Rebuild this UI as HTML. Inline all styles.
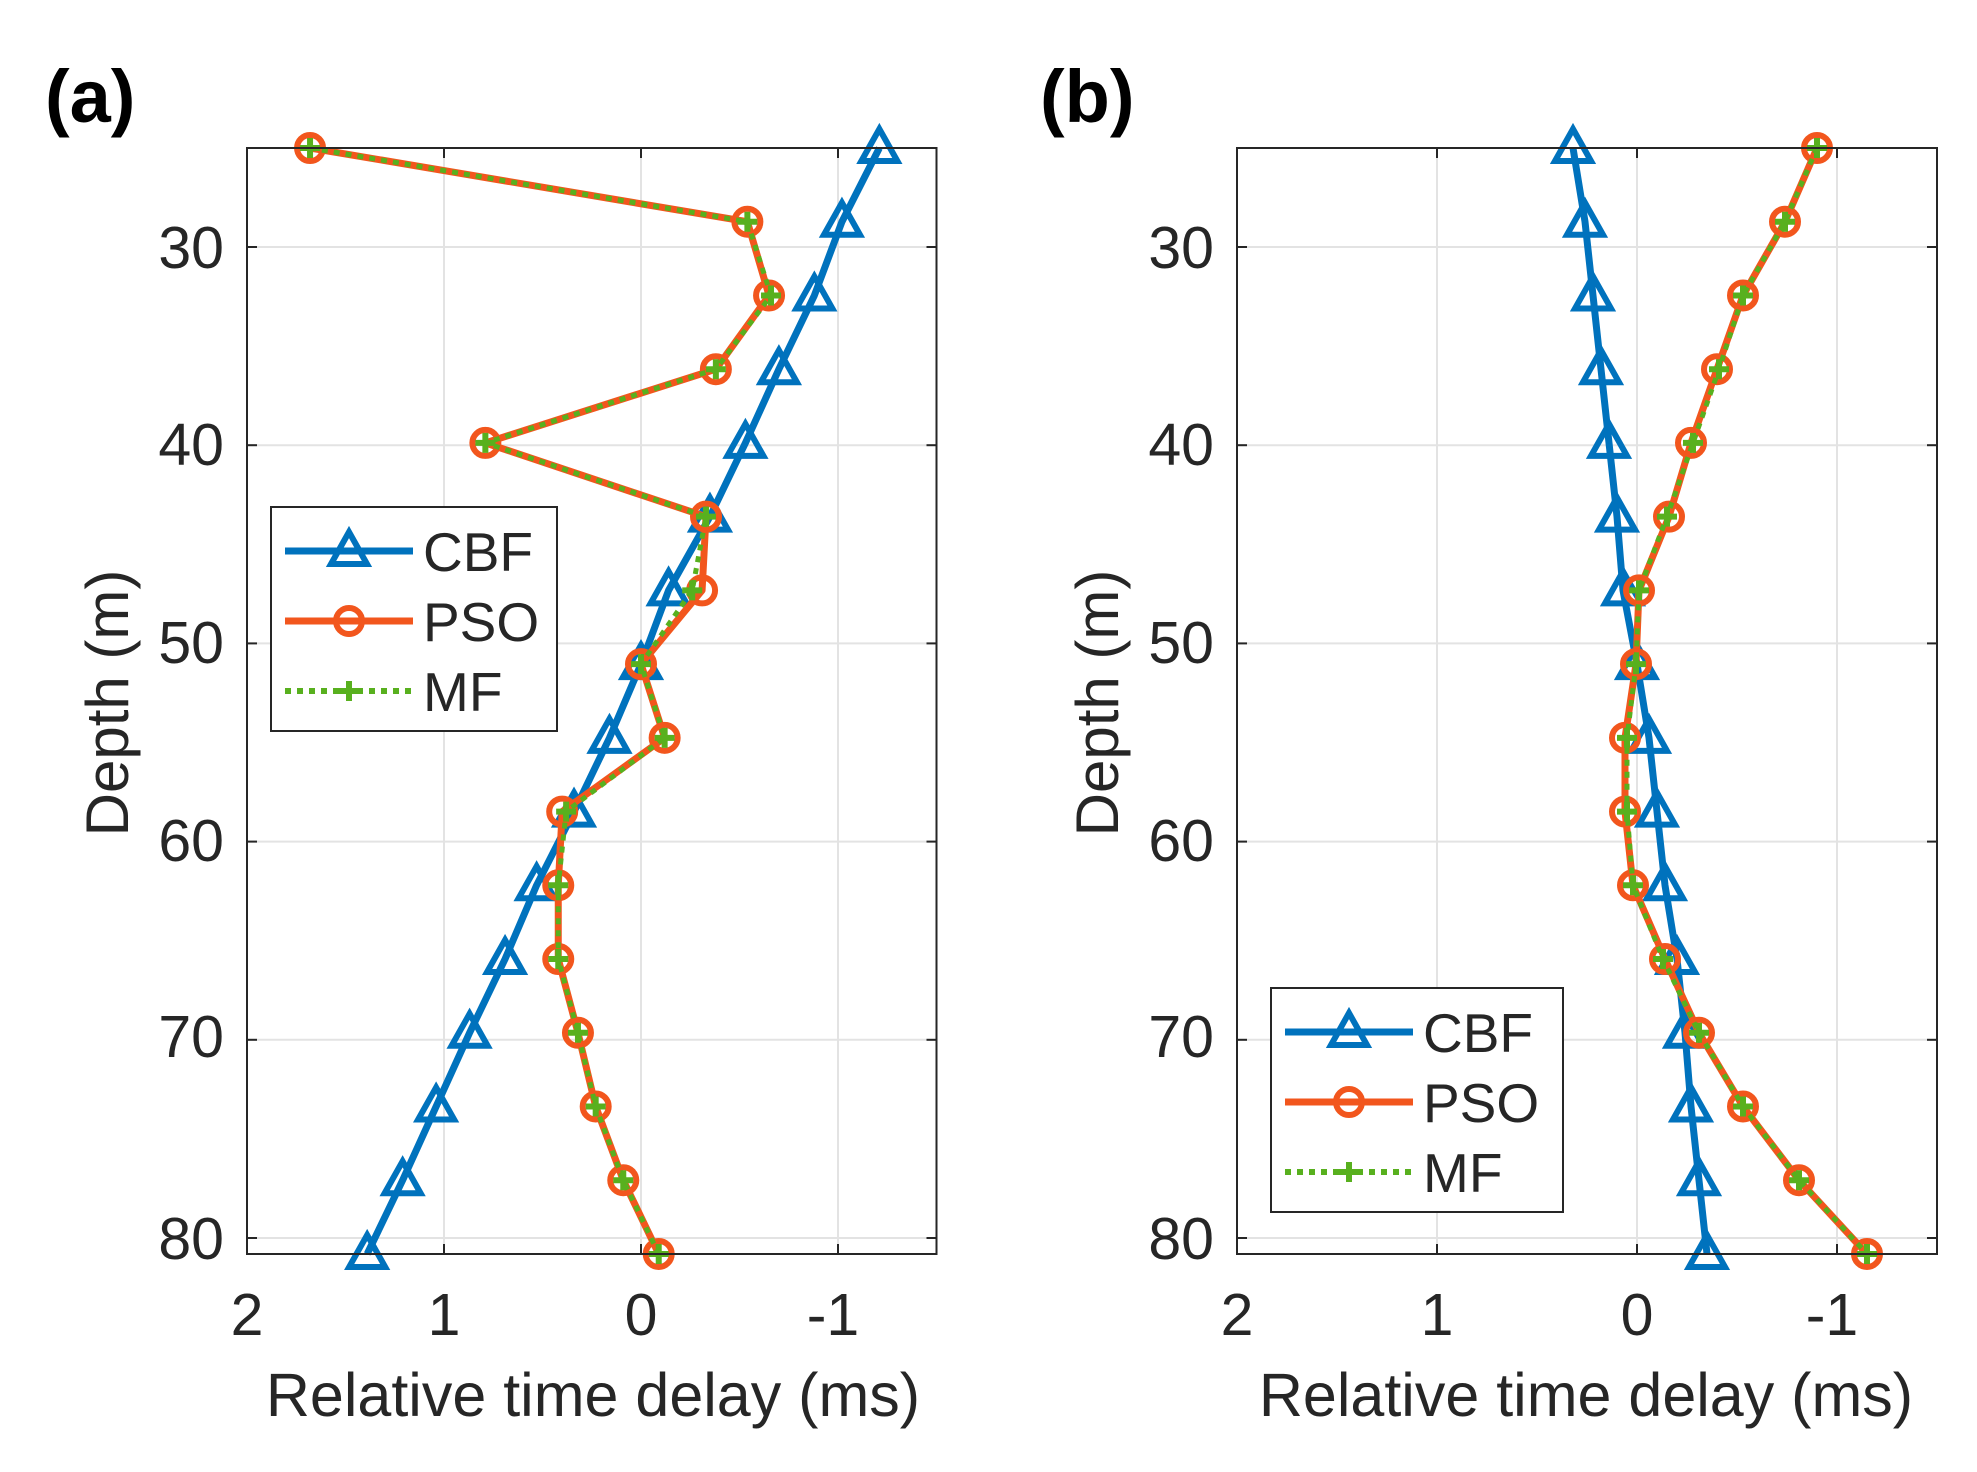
<!DOCTYPE html>
<html><head><meta charset="utf-8"><style>
html,body{margin:0;padding:0;background:#fff}
svg{display:block}
text{font-family:"Liberation Sans",sans-serif;fill:#262626}
</style></head><body>
<svg id="s" width="1977" height="1472" viewBox="0 0 1977 1472" xmlns="http://www.w3.org/2000/svg">
<rect width="1977" height="1472" fill="#fff"/>
<g id="grid"></g>
<g id="data"></g>
<g id="frames"></g>
<text x="45" y="122" font-size="74" font-weight="bold" style="fill:#000">(a)</text>
<text x="1040" y="122" font-size="74" font-weight="bold" style="fill:#000">(b)</text>
<g font-size="59" text-anchor="end">
<text x="224" y="268">30</text><text x="224" y="465">40</text><text x="224" y="663">50</text>
<text x="224" y="861">60</text><text x="224" y="1057">70</text><text x="224" y="1259">80</text>
<text x="1214" y="268">30</text><text x="1214" y="465">40</text><text x="1214" y="663">50</text>
<text x="1214" y="861">60</text><text x="1214" y="1057">70</text><text x="1214" y="1259">80</text>
</g>
<g font-size="59" text-anchor="middle">
<text x="247" y="1335">2</text><text x="444" y="1335">1</text><text x="641" y="1335">0</text><text x="833" y="1335">-1</text>
<text x="1237" y="1335">2</text><text x="1437" y="1335">1</text><text x="1637" y="1335">0</text><text x="1832" y="1335">-1</text>
</g>
<text x="593" y="1416" font-size="61" text-anchor="middle">Relative time delay (ms)</text>
<text x="1586" y="1416" font-size="61" text-anchor="middle">Relative time delay (ms)</text>
<text transform="translate(128,703) rotate(-90)" font-size="60" text-anchor="middle">Depth (m)</text>
<text transform="translate(1118,703) rotate(-90)" font-size="60" text-anchor="middle">Depth (m)</text>
<g id="legends"></g>
</svg>
<script>
const NS="http://www.w3.org/2000/svg";
function el(p,t,a){const e=document.createElementNS(NS,t);for(const k in a)e.setAttribute(k,a[k]);p.appendChild(e);return e;}
const grid=document.getElementById('grid'),data=document.getElementById('data'),fr=document.getElementById('frames'),lg=document.getElementById('legends');
const B='#0072BD',O='#F2561D',G='#58B01E';
const yD=d=>247+(d-30)*19.82;
const yi=i=>148+73.73*i;
const panels=[
 {L:247,W:197,
  cbf:[-1.21,-1.02,-0.88,-0.70,-0.53,-0.35,-0.14,0,0.16,0.34,0.53,0.69,0.87,1.04,1.21,1.39],
  pso:[1.68,-0.54,-0.65,-0.38,0.79,-0.33,-0.31,0,-0.12,0.40,0.42,0.42,0.32,0.23,0.09,-0.09],
  mf:[1.68,-0.54,-0.66,-0.38,0.79,-0.33,-0.26,0,-0.12,0.38,0.42,0.42,0.32,0.23,0.09,-0.09],
  leg:[271,507,286,224]},
 {L:1237,W:200,
  cbf:[0.32,0.26,0.22,0.18,0.14,0.10,0.07,0,-0.06,-0.10,-0.14,-0.20,-0.24,-0.27,-0.31,-0.35],
  pso:[-0.90,-0.74,-0.53,-0.40,-0.27,-0.16,-0.01,0.005,0.06,0.06,0.02,-0.14,-0.31,-0.53,-0.81,-1.15],
  mf:[-0.90,-0.74,-0.53,-0.41,-0.28,-0.15,-0.01,0.005,0.05,0.05,0.02,-0.13,-0.31,-0.53,-0.81,-1.15],
  leg:[1271,988,292,224]}
];
const T=148,Bt=1254;
function tri(g,x,y,c){el(g,'polygon',{points:`${x},${y-19} ${x-18},${y+13} ${x+18},${y+13}`,fill:'none',stroke:c,'stroke-width':6});}
function circ(g,x,y,c){el(g,'circle',{cx:x,cy:y,r:13,fill:'none',stroke:c,'stroke-width':6});}
function plus(g,x,y,c){el(g,'path',{d:`M${x-10} ${y}H${x+10}M${x} ${y-10}V${y+10}`,stroke:c,'stroke-width':6});}
panels.forEach(p=>{
 const X=v=>p.L+(2-v)*p.W, R=p.L+3.5*p.W;
 [1,0,-1].forEach(v=>el(grid,'line',{x1:X(v),x2:X(v),y1:T,y2:Bt,stroke:'#e3e3e3','stroke-width':2}));
 [30,40,50,60,70,80].forEach(d=>el(grid,'line',{x1:p.L,x2:R,y1:yD(d),y2:yD(d),stroke:'#e3e3e3','stroke-width':2}));
 el(fr,'rect',{x:p.L,y:T,width:R-p.L,height:Bt-T,fill:'none',stroke:'#262626','stroke-width':2});
 [2,1,0,-1].forEach(v=>{el(fr,'line',{x1:X(v),x2:X(v),y1:Bt,y2:Bt-10,stroke:'#262626','stroke-width':2});el(fr,'line',{x1:X(v),x2:X(v),y1:T,y2:T+10,stroke:'#262626','stroke-width':2});});
 [30,40,50,60,70,80].forEach(d=>{el(fr,'line',{x1:p.L,x2:p.L+10,y1:yD(d),y2:yD(d),stroke:'#262626','stroke-width':2});el(fr,'line',{x1:R,x2:R-10,y1:yD(d),y2:yD(d),stroke:'#262626','stroke-width':2});});
 const pts=a=>a.map((v,i)=>X(v)+','+yi(i)).join(' ');
 el(data,'polyline',{points:pts(p.cbf),fill:'none',stroke:B,'stroke-width':7,'stroke-linejoin':'round'});
 p.cbf.forEach((v,i)=>tri(data,X(v),yi(i),B));
 el(data,'polyline',{points:pts(p.pso),fill:'none',stroke:O,'stroke-width':7,'stroke-linejoin':'round'});
 p.pso.forEach((v,i)=>circ(data,X(v),yi(i),O));
 el(data,'polyline',{points:pts(p.mf),fill:'none',stroke:G,'stroke-width':5,'stroke-dasharray':'6 6'});
 p.mf.forEach((v,i)=>plus(data,X(v),yi(i),G));
 const [lx,ly,lw,lh]=p.leg;
 el(lg,'rect',{x:lx,y:ly,width:lw,height:lh,fill:'#fff',stroke:'#262626','stroke-width':2});
 const rows=[ly+44,ly+114,ly+184];
 const x1=lx+14,x2=lx+142,xm=(x1+x2)/2;
 el(lg,'line',{x1,x2,y1:rows[0],y2:rows[0],stroke:B,'stroke-width':7});tri(lg,xm,rows[0],B);
 el(lg,'line',{x1,x2,y1:rows[1],y2:rows[1],stroke:O,'stroke-width':7});circ(lg,xm,rows[1],O);
 el(lg,'line',{x1,x2,y1:rows[2],y2:rows[2],stroke:G,'stroke-width':6,'stroke-dasharray':'6 6'});plus(lg,xm,rows[2],G);
 ['CBF','PSO','MF'].forEach((t,i)=>{const e=el(lg,'text',{x:lx+152,y:rows[i]+20,'font-size':55});e.textContent=t;});
});
</script>
</body></html>
